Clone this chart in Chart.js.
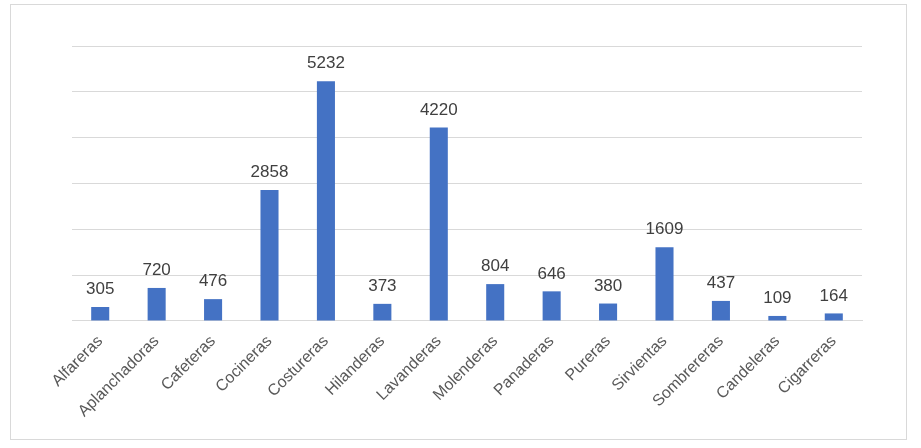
<!DOCTYPE html>
<html><head><meta charset="utf-8">
<script src="https://cdn.jsdelivr.net/npm/chart.js@4"></script>
<style>
html,body{margin:0;padding:0;background:#fff;}
#frame{position:absolute;left:10px;top:4px;width:897px;height:436px;border:1px solid #d9d9d9;box-sizing:border-box;}
#wrap{position:absolute;left:0;top:0;width:921px;height:448px;}
</style></head><body>
<div id="frame"></div>
<div id="wrap"><canvas id="c" width="921" height="448"></canvas></div>
<script>
const categories=["Alfareras","Aplanchadoras","Cafeteras","Cocineras","Costureras","Hilanderas","Lavanderas","Molenderas","Panaderas","Pureras","Sirvientas","Sombrereras","Candeleras","Cigarreras"];
const values=[305,720,476,2858,5232,373,4220,804,646,380,1609,437,109,164];
const labelPlugin={id:'lbl',afterDatasetsDraw(chart){
 const ctx=chart.ctx;const meta=chart.getDatasetMeta(0);
 ctx.save();ctx.font='17px "Liberation Sans", Arial';ctx.fillStyle='#404040';ctx.textAlign='center';ctx.textBaseline='bottom';
 meta.data.forEach((b,i)=>ctx.fillText(String(values[i]),b.x,b.y-9));
 ctx.restore();}};
new Chart(document.getElementById('c'),{type:'bar',
data:{labels:categories,datasets:[{data:values,backgroundColor:'#4472c4',barPercentage:0.32,categoryPercentage:1}]},
options:{responsive:false,animation:false,
layout:{padding:{left:72,right:59,top:46,bottom:24}},
plugins:{legend:{display:false},tooltip:{enabled:false}},
scales:{
 x:{grid:{display:false},border:{color:'#d9d9d9'},ticks:{color:'#595959',font:{size:16,family:'"Liberation Sans", Arial'},maxRotation:45,minRotation:45}},
 y:{min:0,max:6000,ticks:{stepSize:1000,display:false},grid:{color:'#d9d9d9',drawTicks:false},border:{display:false}}
}},plugins:[labelPlugin]});
</script></body></html>
